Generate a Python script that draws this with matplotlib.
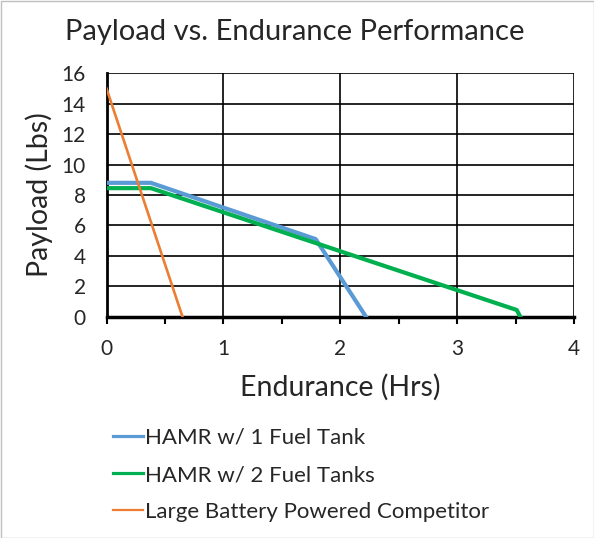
import matplotlib
matplotlib.use("Agg")
import matplotlib.pyplot as plt
from matplotlib.ticker import MultipleLocator
from matplotlib.patches import Rectangle
from matplotlib.lines import Line2D

plt.rcParams['font.family'] = ['Lato', 'DejaVu Sans']
plt.rcParams['text.color'] = '#262626'
plt.rcParams['axes.labelcolor'] = '#262626'
plt.rcParams['xtick.labelcolor'] = '#262626'
plt.rcParams['ytick.labelcolor'] = '#262626'

one_tank_x = [0, 0.38, 1.79, 2.22]
one_tank_y = [8.8, 8.8, 5.1, 0]
two_tank_x = [0, 0.38, 3.51, 3.54]
two_tank_y = [8.45, 8.45, 0.44, 0]
battery_x = [0, 0.65]
battery_y = [15.0, 0]
labels = ["HAMR w/ 1 Fuel Tank", "HAMR w/ 2 Fuel Tanks", "Large Battery Powered Competitor"]
colors = ["#5b9bd5", "#00b050", "#ed7d31"]

fig = plt.figure(figsize=(5.94, 5.38), dpi=100)
ax = fig.add_axes([106.5 / 594, 1 - 316.7 / 538, (574 - 106.5) / 594, (316.7 - 73.3) / 538])

ax.plot(one_tank_x, one_tank_y, color=colors[0], lw=3.0, zorder=3)
ax.plot(two_tank_x, two_tank_y, color=colors[1], lw=3.0, zorder=3)
ax.plot(battery_x, battery_y, color=colors[2], lw=1.9, zorder=3)

ax.set_xlim(0, 4)
ax.set_ylim(0, 16)
ax.xaxis.set_major_locator(MultipleLocator(1))
ax.xaxis.set_minor_locator(MultipleLocator(0.5))
ax.yaxis.set_major_locator(MultipleLocator(2))
ax.grid(True, which="major", color="black", lw=1.2)
ax.set_axisbelow(True)
for side in ["top", "right"]:
    ax.spines[side].set_visible(False)
ax.spines["left"].set_linewidth(2)
ax.spines["bottom"].set_linewidth(2.5)
ax.tick_params(axis="x", which="major", length=5, width=1.5, labelsize=15, pad=11)
ax.tick_params(axis="x", which="minor", length=5, width=1.5)
ax.tick_params(axis="y", length=0, labelsize=15, pad=15)

ax.set_xlabel("Endurance (Hrs)", fontsize=20.5, labelpad=11)
ax.set_ylabel("Payload (Lbs)", fontsize=20.5, labelpad=6)
fig.text(0.497, 1 - 32 / 538, "Payload vs. Endurance Performance", ha="center", va="center", fontsize=21)

handles = [Line2D([], [], color=colors[0], lw=2.3),
           Line2D([], [], color=colors[1], lw=2.3),
           Line2D([], [], color=colors[2], lw=1.6)]
fig.legend(handles, labels, loc="upper left", bbox_to_anchor=(113 / 594, 1 - 428 / 538),
           frameon=False, fontsize=16, borderpad=0, borderaxespad=0,
           handlelength=1.35, handletextpad=0.1, labelspacing=0.77)

fig.patches.append(Rectangle((0.5 / 594, 0.5 / 538), 1 - 1 / 594, 1 - 1 / 538, transform=fig.transFigure,
                             fill=False, edgecolor="#bfbfbf", lw=1))

fig.savefig("out.png", dpi=100)
